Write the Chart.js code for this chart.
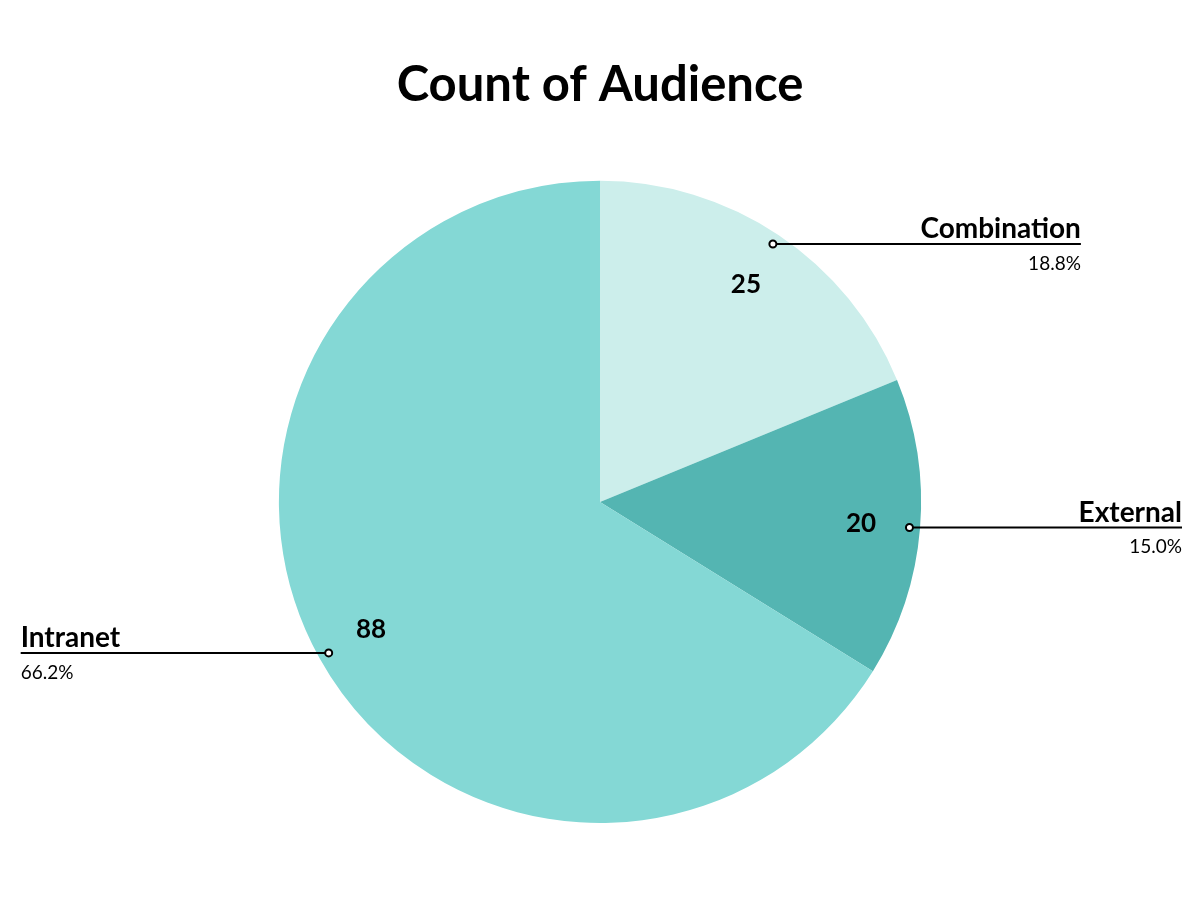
<!DOCTYPE html>
<html>
<head>
<meta charset="utf-8">
<style>
  html, body { margin: 0; padding: 0; background: #fff; }
  #wrap { width: 1200px; height: 900px; }
</style>
<script src="https://cdn.jsdelivr.net/npm/chart.js@4/dist/chart.umd.min.js"></script>
</head>
<body>
<div id="wrap"><canvas id="audienceChart" width="1200" height="900"></canvas></div>
<script>
// Data
const categories = ['Combination', 'External', 'Intranet'];
const counts = [25, 20, 88];
const sliceColors = ['#CCEEEB', '#54B5B2', '#84D8D5'];

const FONT = 'Lato, "Noto Sans", sans-serif';

// Callouts: value inside slice, dot near the edge, line out to name + percent
const calloutPlugin = {
    id: 'callouts',
    afterDraw(chart) {
        const ctx = chart.ctx;
        const meta = chart.getDatasetMeta(0);
        const total = counts.reduce((a, b) => a + b, 0);
        const lineLen = 308;
        const edge = 18;

        meta.data.forEach((arc, i) => {
            const p = arc.getProps(['x', 'y', 'startAngle', 'endAngle', 'outerRadius'], true);
            const mid = (p.startAngle + p.endAngle) / 2;
            const cos = Math.cos(mid), sin = Math.sin(mid);

            // value
            const vr = p.outerRadius * 0.816;
            ctx.save();
            ctx.fillStyle = '#000';
            ctx.font = 'bold 26px ' + FONT;
            ctx.textAlign = 'center';
            ctx.textBaseline = 'middle';
            ctx.fillText(String(counts[i]), p.x + cos * vr, p.y + sin * vr);

            // dot + line
            const dr = p.outerRadius * 0.967;
            const dx = p.x + cos * dr, dy = p.y + sin * dr;
            const right = cos >= 0;
            let endX = right ? dx + lineLen : dx - lineLen;
            endX = Math.max(edge, Math.min(chart.width - edge, endX));

            ctx.strokeStyle = '#000';
            ctx.lineWidth = 2;
            ctx.beginPath();
            ctx.moveTo(dx, dy);
            ctx.lineTo(endX, dy);
            ctx.stroke();

            ctx.beginPath();
            ctx.arc(dx, dy, 3.5, 0, Math.PI * 2);
            ctx.fillStyle = '#fff';
            ctx.fill();
            ctx.stroke();

            // name + percent
            ctx.fillStyle = '#000';
            ctx.textAlign = right ? 'right' : 'left';
            ctx.textBaseline = 'alphabetic';
            ctx.font = 'bold 28px ' + FONT;
            ctx.fillText(categories[i], endX, dy - 6);
            ctx.font = '19px ' + FONT;
            ctx.textBaseline = 'top';
            const pct = (counts[i] / total * 100).toFixed(1) + '%';
            ctx.fillText(pct, endX, dy + 10);
            ctx.restore();
        });
    }
};

new Chart(document.getElementById('audienceChart'), {
    type: 'pie',
    data: {
        labels: categories,
        datasets: [{
            data: counts,
            backgroundColor: sliceColors,
            borderWidth: 0
        }]
    },
    options: {
        responsive: false,
        animation: false,
        layout: { padding: { top: 0, bottom: 77, left: 0, right: 0 } },
        plugins: {
            legend: { display: false },
            tooltip: { enabled: false },
            title: {
                display: true,
                text: 'Count of Audience',
                color: '#000',
                font: { family: FONT, size: 49, weight: 'bold', lineHeight: 1.2 },
                padding: { top: 56, bottom: 66 }
            }
        }
    },
    plugins: [calloutPlugin]
});
</script>
</body>
</html>
